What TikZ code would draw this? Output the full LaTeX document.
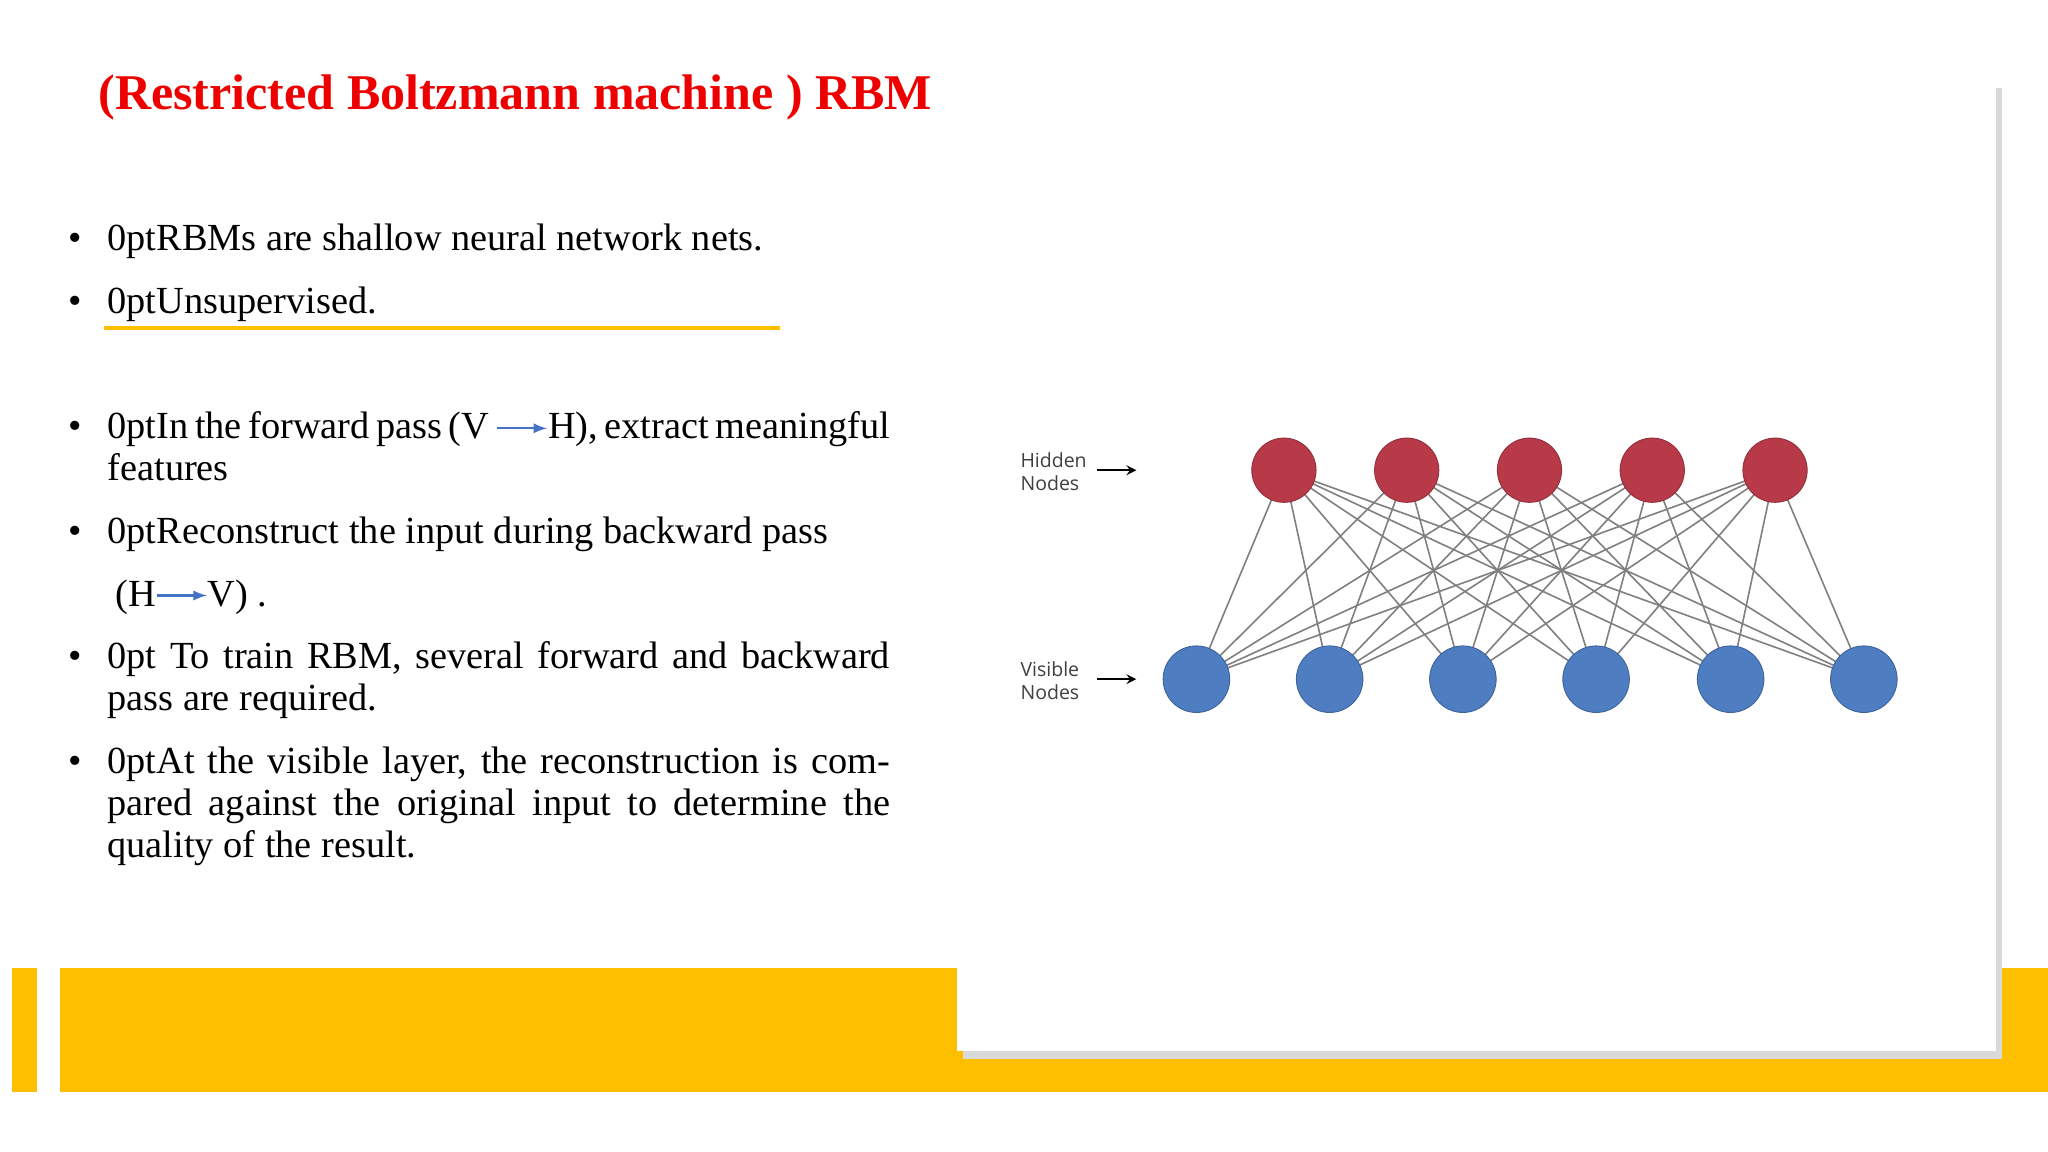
\documentclass[tikz,border=0pt]{standalone}
\usepackage{fontspec}
\setmainfont{Liberation Serif}
\newfontfamily\diagfont{Open Sans}
\definecolor{band}{HTML}{FDBF00}
\definecolor{tred}{HTML}{EE0000}
\definecolor{hnode}{HTML}{B83A48}
\definecolor{vnode}{HTML}{4E7DC2}
\definecolor{ablue}{HTML}{4472C4}
\newcommand{\myarr}{\tikz[baseline=0pt]\draw[-latex,ablue,line width=1pt](0,0.6ex)--(1.3em,0.6ex);}
\begin{document}
\begin{tikzpicture}[x=0.02cm,y=-0.02cm,
  txt/.style={anchor=base west,inner sep=0,font=\fontsize{16.7}{18.3}\selectfont\hyphenpenalty=10000,text width=341pt,align=justify},
  bul/.style={anchor=base west,inner sep=0,font=\fontsize{16.7}{18.3}\selectfont},
  hid/.style={circle,fill=hnode,draw=hnode!80!black,inner sep=0,minimum size=28pt},
  vis/.style={circle,fill=vnode,draw=vnode!80!black,inner sep=0,minimum size=29pt},
  lab/.style={anchor=west,inner sep=0,font=\diagfont\fontsize{8.5}{10}\selectfont,align=left,text=black!75}]
\useasboundingbox (0,0) rectangle (1568,882);
\fill[white] (0,0) rectangle (1568,882);
% bands
\fill[band] (46,741) rectangle (1568,836);
\fill[band] (9,741) rectangle (28,836);
% title
\node[anchor=base west,inner sep=0,text=tred,font=\bfseries\fontsize{21.8}{26}\selectfont] (title) at (75,84) {(Restricted Boltzmann machine ) RBM};
% panel with shadow
\fill[black!15] (737,67) rectangle (1533,811);
\fill[white] (733,62) rectangle (1528,805);
% bullets
\foreach \y in {192,240,336,416,512,592} \node[bul] at (52,\y) {•};
\node[txt] (t1) at (82,192) {RBMs are shallow neural network nets.};
\node[txt] (t2) at (82,240) {Unsupervised.};
\draw[band,line width=2pt] (80,251) -- (597,251);
\node[txt] (t3) at (82,336) {In the forward pass (V \myarr H), extract meaningful features};
\node[txt] (t4) at (82,416) {Reconstruct the input during backward pass};
\node[bul] (t5) at (88,464) {(H\myarr V) .};
\node[txt] (t6) at (82,512) {\ To train RBM, several forward and backward pass are required.};
\node[txt] (t7) at (82,592) {At the visible layer, the reconstruction is compared against the original input to determine the quality of the result.};
% network
\foreach \i/\x in {1/983,2/1077,3/1171,4/1265,5/1359} \coordinate (h\i) at (\x,360);
\foreach \i/\x in {1/916,2/1018,3/1120,4/1222,5/1325,6/1427} \coordinate (v\i) at (\x,520);
\foreach \i in {1,...,5}\foreach \j in {1,...,6} \draw[black!50,line width=0.7pt] (h\i) -- (v\j);
\foreach \i in {1,...,5} \node[hid] (hn\i) at (h\i) {};
\foreach \j in {1,...,6} \node[vis] (vn\j) at (v\j) {};
\node[lab] (hl) at (781,361) {Hidden\\Nodes};
\node[lab] (vl) at (781,521) {Visible\\Nodes};
\coordinate (ha) at (870,360); \coordinate (va) at (870,520);
\draw[-stealth,line width=0.9pt] (840,360) -- (ha);
\draw[-stealth,line width=0.9pt] (840,520) -- (va);
\end{tikzpicture}
\end{document}
